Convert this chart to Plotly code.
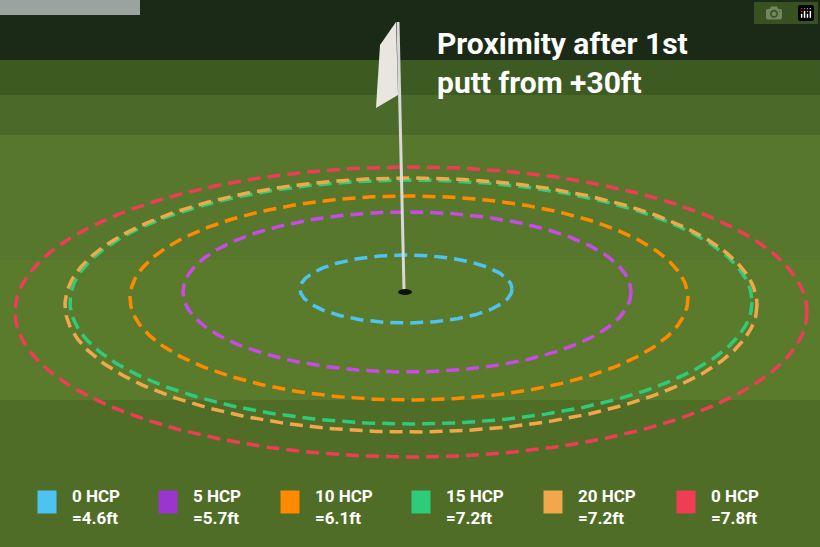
import numpy as np
import plotly.graph_objects as go

# --- data ---
labels = ["0 HCP", "5 HCP", "10 HCP", "15 HCP", "20 HCP", "0 HCP"]
values = ["=4.6ft", "=5.7ft", "=6.1ft", "=7.2ft", "=7.2ft", "=7.8ft"]
colors = ["#4dc3f2", "#c94ae6", "#ff8a00", "#2ecb7a", "#f2a84a", "#f03c55"]
legend_colors = ["#4dc3f2", "#9b35d0", "#ff8a00", "#2ecb7a", "#f2a84a", "#f03c55"]
# ellipse geometry (pixel units)
center_x = [406, 407, 409, 411, 411, 411]
center_y = [289, 292, 298, 302, 305, 312]
radius_x = [106, 224, 279, 341, 346, 396]
radius_y = [34, 80, 102, 122, 127, 145]

W, H = 820, 547
fig = go.Figure()

# --- background (stand-in for the photo) ---
bands = [
    (0, 130, "#1b2a17"),
    (60, 95, "#3d5a22"),
    (95, 135, "#4b6a2a"),
    (135, 260, "#56772c"),
    (260, 400, "#5a7a2c"),
    (400, 547, "#4f6d26"),
]
for y0, y1, c in bands:
    fig.add_shape(type="rect", x0=0, x1=W, y0=y0, y1=y1, fillcolor=c,
                  line_width=0, layer="below")
fig.add_shape(type="rect", x0=0, x1=140, y0=0, y1=15, fillcolor="#9aa3a0",
              line_width=0, layer="below")

# flag pole, hole and flag
fig.add_shape(type="line", x0=398, x1=404, y0=22, y1=290,
              line=dict(color="#d8d8d8", width=3))
fig.add_shape(type="path", path="M 396 22 L 380 45 L 376 108 L 398 95 Z",
              fillcolor="#e8e6df", line_width=0)
fig.add_shape(type="circle", x0=398, x1=412, y0=289, y1=295,
              fillcolor="#111", line_width=0)

# --- ellipses ---
t = np.linspace(0, 2 * np.pi, 400)
for i in range(len(labels)):
    fig.add_trace(go.Scatter(
        x=center_x[i] + radius_x[i] * np.cos(t),
        y=center_y[i] + radius_y[i] * np.sin(t),
        mode="lines", line=dict(color=colors[i], width=3.5, dash="13px,7px"),
        hoverinfo="skip", showlegend=False))

# --- legend ---
col_x = [47, 168, 290, 421, 553, 686]
for i in range(len(labels)):
    fig.add_shape(type="path",
                  path=f"M {col_x[i]-8} 492 L {col_x[i]+8} 492 L {col_x[i]+8} 512 "
                       f"L {col_x[i]-8} 512 Z",
                  fillcolor=legend_colors[i], line=dict(color=legend_colors[i], width=3))
    fig.add_annotation(x=col_x[i] + 23, y=496, text=f"<b>{labels[i]}</b>",
                       showarrow=False, xanchor="left", yanchor="middle",
                       font=dict(color="white", size=17, family="Roboto"))
    fig.add_annotation(x=col_x[i] + 23, y=518, text=f"<b>{values[i]}</b>",
                       showarrow=False, xanchor="left", yanchor="middle",
                       font=dict(color="white", size=17, family="Roboto"))

fig.add_annotation(x=435, y=63, text="<b>Proximity after 1st<br>putt from +30ft</b>",
                   showarrow=False, xanchor="left", yanchor="middle", align="left",
                   font=dict(color="white", size=30, family="Roboto"))

fig.update_xaxes(range=[0, W], visible=False, fixedrange=True)
fig.update_yaxes(range=[H, 0], visible=False, fixedrange=True)
fig.update_layout(width=W, height=H, margin=dict(l=0, r=0, t=0, b=0),
                  plot_bgcolor="#56772c", paper_bgcolor="#56772c")

fig.write_html("out.html", post_script="document.body.style.margin='0';")
